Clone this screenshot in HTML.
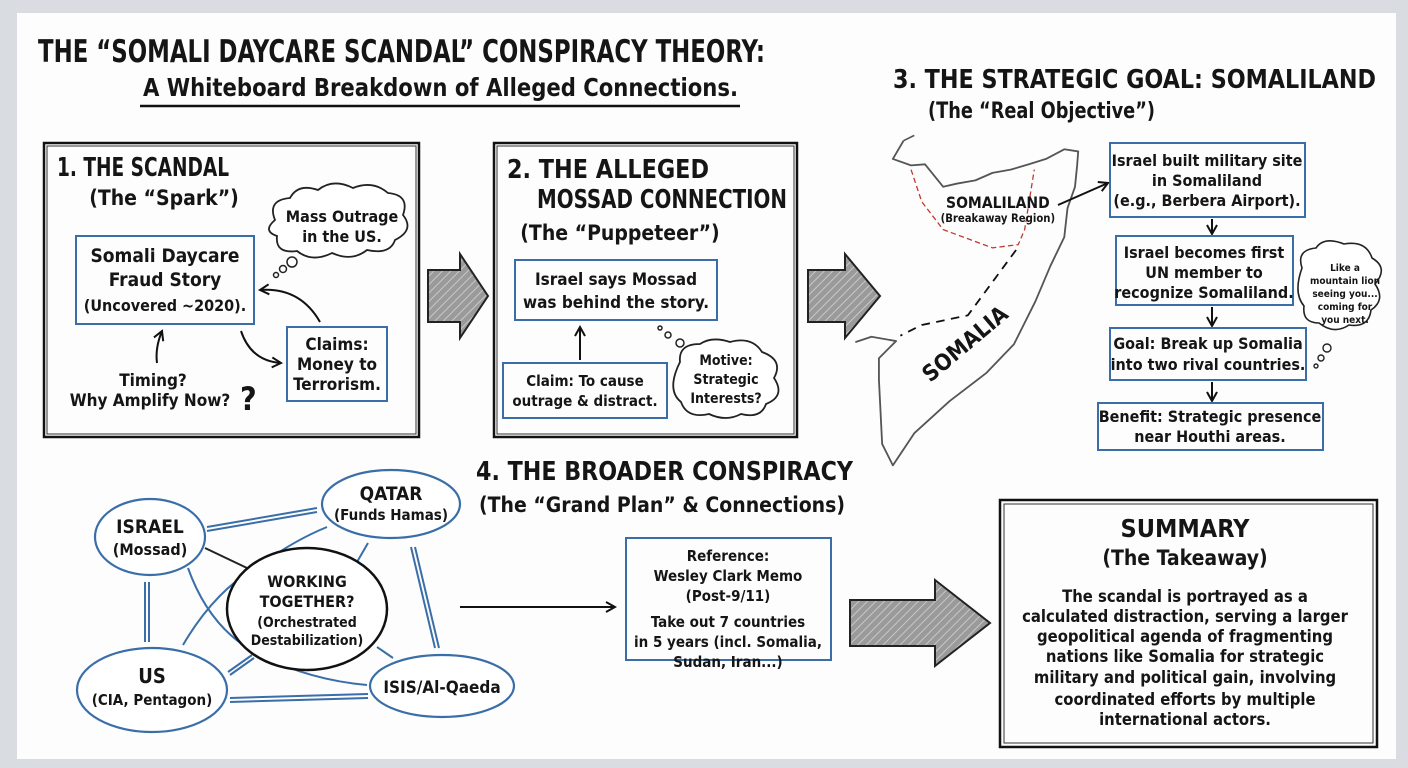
<!DOCTYPE html>
<html><head><meta charset="utf-8"><style>
html,body{margin:0;padding:0;}
body{width:1408px;height:768px;background:#d9dde2;overflow:hidden;}
svg{display:block;}
text{font-family:"DejaVu Sans Condensed","Liberation Sans Narrow","Liberation Sans",sans-serif;font-weight:bold;fill:#151515;}
</style></head><body>
<svg width="1408" height="768" viewBox="0 0 1408 768" xmlns="http://www.w3.org/2000/svg">
<defs>
<pattern id="hatch" width="6" height="6" patternUnits="userSpaceOnUse" patternTransform="rotate(45)">
<rect width="6" height="6" fill="#9a9a9a"/><line x1="0" y1="0" x2="0" y2="6" stroke="#c8c8c8" stroke-width="2"/>
</pattern>
<marker id="ah" markerWidth="12" markerHeight="12" refX="10" refY="6" orient="auto" markerUnits="userSpaceOnUse">
<path d="M1,1 L10,6 L1,11" fill="none" stroke="#111" stroke-width="2"/></marker>
</defs>
<rect x="17" y="13" width="1379" height="746" fill="#fdfdfd"/>

<!-- Title -->
<text x="38" y="62" font-size="31" textLength="727" lengthAdjust="spacingAndGlyphs">THE “SOMALI DAYCARE SCANDAL” CONSPIRACY THEORY:</text>
<text x="143" y="96" font-size="25" textLength="595" lengthAdjust="spacingAndGlyphs">A Whiteboard Breakdown of Alleged Connections.</text>
<line x1="140" y1="106" x2="740" y2="106" stroke="#111" stroke-width="2.5"/>

<!-- Panel 1 -->
<rect x="44" y="143" width="375" height="294" fill="none" stroke="#111" stroke-width="2.5"/>
<rect x="47" y="146" width="369" height="288" fill="none" stroke="#333" stroke-width="1"/>
<text x="57" y="176" font-size="26" textLength="172" lengthAdjust="spacingAndGlyphs">1. THE SCANDAL</text>
<text x="164" y="205" font-size="21" text-anchor="middle">(The “Spark”)</text>
<rect x="76" y="236" width="178" height="88" fill="none" stroke="#3a6ea8" stroke-width="2"/>
<text x="165" y="262" font-size="19" text-anchor="middle">Somali Daycare</text>
<text x="165" y="286" font-size="19" text-anchor="middle">Fraud Story</text>
<text x="165" y="311" font-size="16" text-anchor="middle">(Uncovered ~2020).</text>
<path d="M275,220 q-8,-20 15,-22 q8,-15 28,-8 q15,-12 35,-2 q20,-8 35,5 q22,2 15,22 q12,15 -8,25 q-5,15 -28,10 q-15,12 -35,3 q-20,10 -35,-2 q-22,3 -20,-15 q-15,-5 -2,-16z" fill="#fff" stroke="#222" stroke-width="1.8"/>
<text x="342" y="222" font-size="16" text-anchor="middle">Mass Outrage</text>
<text x="342" y="242" font-size="16" text-anchor="middle">in the US.</text>
<circle cx="292" cy="262" r="5" fill="none" stroke="#222" stroke-width="1.5"/>
<circle cx="283" cy="269" r="3.5" fill="none" stroke="#222" stroke-width="1.5"/>
<circle cx="276" cy="275" r="2.5" fill="none" stroke="#222" stroke-width="1.5"/>
<rect x="287" y="327" width="100" height="74" fill="none" stroke="#3a6ea8" stroke-width="2"/>
<text x="337" y="350" font-size="17" text-anchor="middle">Claims:</text>
<text x="337" y="370" font-size="17" text-anchor="middle">Money to</text>
<text x="337" y="390" font-size="17" text-anchor="middle">Terrorism.</text>
<path d="M320,322 q-20,-35 -60,-32" fill="none" stroke="#111" stroke-width="2" marker-end="url(#ah)"/>
<path d="M241,331 q10,30 40,32" fill="none" stroke="#111" stroke-width="2" marker-end="url(#ah)"/>
<path d="M157,363 q-2,-15 5,-32" fill="none" stroke="#111" stroke-width="2" marker-end="url(#ah)"/>
<text x="153" y="386" font-size="17" text-anchor="middle">Timing?</text>
<text x="150" y="406" font-size="17" text-anchor="middle">Why Amplify Now?</text>
<text x="240" y="410" font-size="32">?</text>

<!-- arrow 1 -->
<path d="M428,270 L460,270 L460,254 L488,296 L460,338 L460,322 L428,322 Z" fill="url(#hatch)" stroke="#222" stroke-width="2"/>

<!-- Panel 2 -->
<rect x="494" y="143" width="303" height="294" fill="none" stroke="#111" stroke-width="2.5"/>
<rect x="497" y="146" width="297" height="288" fill="none" stroke="#333" stroke-width="1"/>
<text x="507" y="178" font-size="26" textLength="202" lengthAdjust="spacingAndGlyphs">2. THE ALLEGED</text>
<text x="537" y="208" font-size="26" textLength="250" lengthAdjust="spacingAndGlyphs">MOSSAD CONNECTION</text>
<text x="620" y="240" font-size="21" text-anchor="middle">(The “Puppeteer”)</text>
<rect x="515" y="260" width="202" height="60" fill="none" stroke="#3a6ea8" stroke-width="2"/>
<text x="616" y="285" font-size="17" text-anchor="middle">Israel says Mossad</text>
<text x="616" y="308" font-size="17" text-anchor="middle">was behind the story.</text>
<path d="M580,360 L580,327" stroke="#111" stroke-width="2" marker-end="url(#ah)"/>
<rect x="503" y="363" width="164" height="55" fill="none" stroke="#3a6ea8" stroke-width="2"/>
<text x="585" y="386" font-size="15" text-anchor="middle">Claim: To cause</text>
<text x="585" y="406" font-size="15" text-anchor="middle">outrage &amp; distract.</text>
<path d="M680,362 q-2,-18 20,-18 q12,-8 30,-2 q22,-6 32,10 q22,8 12,26 q12,18 -8,26 q-5,15 -25,10 q-15,8 -32,0 q-22,5 -28,-12 q-15,-12 -1,-40z" fill="#fff" stroke="#222" stroke-width="1.8"/>
<text x="726" y="365" font-size="14" text-anchor="middle">Motive:</text>
<text x="726" y="384" font-size="14" text-anchor="middle">Strategic</text>
<text x="726" y="403" font-size="14" text-anchor="middle">Interests?</text>
<circle cx="680" cy="343" r="4" fill="none" stroke="#222" stroke-width="1.5"/>
<circle cx="668" cy="335" r="3" fill="none" stroke="#222" stroke-width="1.5"/>
<circle cx="660" cy="328" r="2" fill="none" stroke="#222" stroke-width="1.5"/>

<!-- arrow 2 -->
<path d="M808,270 L845,270 L845,254 L880,296 L845,338 L845,322 L808,322 Z" fill="url(#hatch)" stroke="#222" stroke-width="2"/>

<!-- Section 3 -->
<text x="893" y="88" font-size="26" textLength="483" lengthAdjust="spacingAndGlyphs">3. THE STRATEGIC GOAL: SOMALILAND</text>
<text x="928" y="118" font-size="22" textLength="227" lengthAdjust="spacingAndGlyphs">(The “Real Objective”)</text>
<!-- map -->
<g transform="translate(850,130) scale(1.0714) translate(-850,-130)">
<path d="M900,140 L890,157 L907,163 L920,162 L937,183 L950,180 L967,177 L983,170 L1000,167 L1017,162 L1033,157 L1050,148 L1063,150 L1062,163 L1060,183 L1053,203 L1050,230 L1037,257 L1023,290 L1003,330 L977,357 L943,383 L910,413 L890,443 L880,423 L877,363 L877,343 L893,327 L870,323 L855,328" fill="none" stroke="#555" stroke-width="1.7" stroke-linejoin="round"/>
<path d="M900,140 L910,135" fill="none" stroke="#555" stroke-width="1.5"/>
<path d="M907,167 L917,197 L937,223 L983,240 L1007,237 L1013,223 L1022,167" fill="none" stroke="#c0392b" stroke-width="1.2" stroke-dasharray="5,3"/>
<path d="M1005,242 L960,303 L917,312 L897,322" fill="none" stroke="#111" stroke-width="1.7" stroke-dasharray="8,6"/>
<text x="988" y="203" font-size="14.5" text-anchor="middle">SOMALILAND</text>
<text x="988" y="216" font-size="10.5" text-anchor="middle">(Breakaway Region)</text>
<text x="962" y="335" font-size="21" text-anchor="middle" transform="rotate(-40 962 335)">SOMALIA</text>
</g>
<path d="M1058,205 L1108,183" stroke="#111" stroke-width="2" marker-end="url(#ah)"/>
<rect x="1110" y="143" width="195" height="74" fill="none" stroke="#3a6ea8" stroke-width="2"/>
<text x="1207" y="166" font-size="16" text-anchor="middle">Israel built military site</text>
<text x="1207" y="186" font-size="16" text-anchor="middle">in Somaliland</text>
<text x="1207" y="206" font-size="16" text-anchor="middle">(e.g., Berbera Airport).</text>
<path d="M1212,219 L1212,234" stroke="#111" stroke-width="2" marker-end="url(#ah)"/>
<rect x="1116" y="236" width="177" height="69" fill="none" stroke="#3a6ea8" stroke-width="2"/>
<text x="1204" y="258" font-size="16" text-anchor="middle">Israel becomes first</text>
<text x="1204" y="278" font-size="16" text-anchor="middle">UN member to</text>
<text x="1204" y="298" font-size="16" text-anchor="middle">recognize Somaliland.</text>
<path d="M1212,307 L1212,326" stroke="#111" stroke-width="2" marker-end="url(#ah)"/>
<rect x="1110" y="328" width="196" height="52" fill="none" stroke="#3a6ea8" stroke-width="2"/>
<text x="1208" y="349" font-size="16" text-anchor="middle">Goal: Break up Somalia</text>
<text x="1208" y="370" font-size="16" text-anchor="middle">into two rival countries.</text>
<path d="M1212,382 L1212,401" stroke="#111" stroke-width="2" marker-end="url(#ah)"/>
<rect x="1098" y="403" width="225" height="47" fill="none" stroke="#3a6ea8" stroke-width="2"/>
<text x="1210" y="422" font-size="16" text-anchor="middle">Benefit: Strategic presence</text>
<text x="1210" y="442" font-size="16" text-anchor="middle">near Houthi areas.</text>
<path d="M1302,268 q-6,-18 14,-20 q8,-12 28,-4 q22,-4 28,14 q17,10 3,26 q11,16 -4,26 q-2,18 -22,15 q-15,10 -30,-2 q-17,0 -15,-17 q-11,-13 -2,-38z" fill="#fff" stroke="#222" stroke-width="1.6"/>
<text x="1345" y="271" font-size="10" text-anchor="middle">Like a</text>
<text x="1345" y="284" font-size="10" text-anchor="middle">mountain lion</text>
<text x="1345" y="297" font-size="10" text-anchor="middle">seeing you...</text>
<text x="1345" y="310" font-size="10" text-anchor="middle">coming for</text>
<text x="1345" y="323" font-size="10" text-anchor="middle">you next.</text>
<circle cx="1327" cy="348" r="4" fill="none" stroke="#222" stroke-width="1.4"/>
<circle cx="1321" cy="358" r="3" fill="none" stroke="#222" stroke-width="1.4"/>
<circle cx="1316" cy="366" r="2" fill="none" stroke="#222" stroke-width="1.4"/>

<!-- Section 4 -->
<text x="476" y="480" font-size="26" textLength="377" lengthAdjust="spacingAndGlyphs">4. THE BROADER CONSPIRACY</text>
<text x="662" y="512" font-size="21" text-anchor="middle">(The “Grand Plan” &amp; Connections)</text>
<g stroke="#3a6ea8" stroke-width="2" fill="none">
<line x1="207" y1="527" x2="317" y2="508"/><line x1="207" y1="531" x2="317" y2="512"/>
<line x1="145" y1="582" x2="145" y2="642"/><line x1="149" y1="582" x2="149" y2="642"/>
<path d="M188,568 Q210,630 260,655 Q310,680 367,685"/>
<path d="M183,645 Q215,590 260,565 Q295,540 327,527"/>
<line x1="368" y1="543" x2="357" y2="562"/>
<line x1="411" y1="547" x2="435" y2="648"/><line x1="415" y1="547" x2="439" y2="648"/>
<line x1="377" y1="647" x2="393" y2="658"/>
<line x1="228" y1="672" x2="252" y2="655"/><line x1="230" y1="675" x2="254" y2="658"/>
<line x1="230" y1="698" x2="368" y2="694"/><line x1="230" y1="702" x2="368" y2="698"/>
</g>
<line x1="205" y1="548" x2="247" y2="568" stroke="#222" stroke-width="2"/>
<g stroke="#3a6ea8" stroke-width="2.2" fill="#fff">
<ellipse cx="150" cy="537" rx="55" ry="38"/>
<ellipse cx="391" cy="504" rx="69" ry="34"/>
<ellipse cx="152" cy="690" rx="75" ry="42"/>
<ellipse cx="442" cy="686" rx="72" ry="31"/>
</g>
<ellipse cx="307" cy="609" rx="80" ry="61" fill="#fff" stroke="#111" stroke-width="2.5"/>
<text x="150" y="533" font-size="19" text-anchor="middle">ISRAEL</text>
<text x="150" y="555" font-size="16" text-anchor="middle">(Mossad)</text>
<text x="391" y="500" font-size="19" text-anchor="middle">QATAR</text>
<text x="391" y="520" font-size="15" text-anchor="middle">(Funds Hamas)</text>
<text x="152" y="683" font-size="20" text-anchor="middle">US</text>
<text x="152" y="705" font-size="15" text-anchor="middle">(CIA, Pentagon)</text>
<text x="442" y="693" font-size="17" text-anchor="middle">ISIS/Al-Qaeda</text>
<text x="307" y="587" font-size="16" text-anchor="middle">WORKING</text>
<text x="307" y="607" font-size="16" text-anchor="middle">TOGETHER?</text>
<text x="307" y="627" font-size="14" text-anchor="middle">(Orchestrated</text>
<text x="307" y="645" font-size="14" text-anchor="middle">Destabilization)</text>
<path d="M460,607 L615,607" stroke="#111" stroke-width="2" marker-end="url(#ah)"/>
<rect x="626" y="538" width="205" height="122" fill="none" stroke="#3a6ea8" stroke-width="2"/>
<text x="728" y="561" font-size="15" text-anchor="middle">Reference:</text>
<text x="728" y="581" font-size="15" text-anchor="middle">Wesley Clark Memo</text>
<text x="728" y="601" font-size="15" text-anchor="middle">(Post-9/11)</text>
<text x="728" y="627" font-size="15" text-anchor="middle">Take out 7 countries</text>
<text x="728" y="647" font-size="15" text-anchor="middle">in 5 years (incl. Somalia,</text>
<text x="728" y="667" font-size="15" text-anchor="middle">Sudan, Iran...)</text>
<path d="M850,600 L935,600 L935,580 L990,623 L935,666 L935,646 L850,646 Z" fill="url(#hatch)" stroke="#222" stroke-width="2"/>

<!-- Summary -->
<rect x="1000" y="500" width="377" height="247" fill="none" stroke="#111" stroke-width="2.5"/>
<rect x="1004" y="504" width="369" height="239" fill="none" stroke="#333" stroke-width="1"/>
<text x="1185" y="537" font-size="25" text-anchor="middle">SUMMARY</text>
<text x="1185" y="565" font-size="21" text-anchor="middle">(The Takeaway)</text>
<g font-size="16.5" text-anchor="middle">
<text x="1185" y="602">The scandal is portrayed as a</text>
<text x="1185" y="622">calculated distraction, serving a larger</text>
<text x="1185" y="642">geopolitical agenda of fragmenting</text>
<text x="1185" y="662">nations like Somalia for strategic</text>
<text x="1185" y="683">military and political gain, involving</text>
<text x="1185" y="705">coordinated efforts by multiple</text>
<text x="1185" y="725">international actors.</text>
</g>
</svg>
</body></html>
